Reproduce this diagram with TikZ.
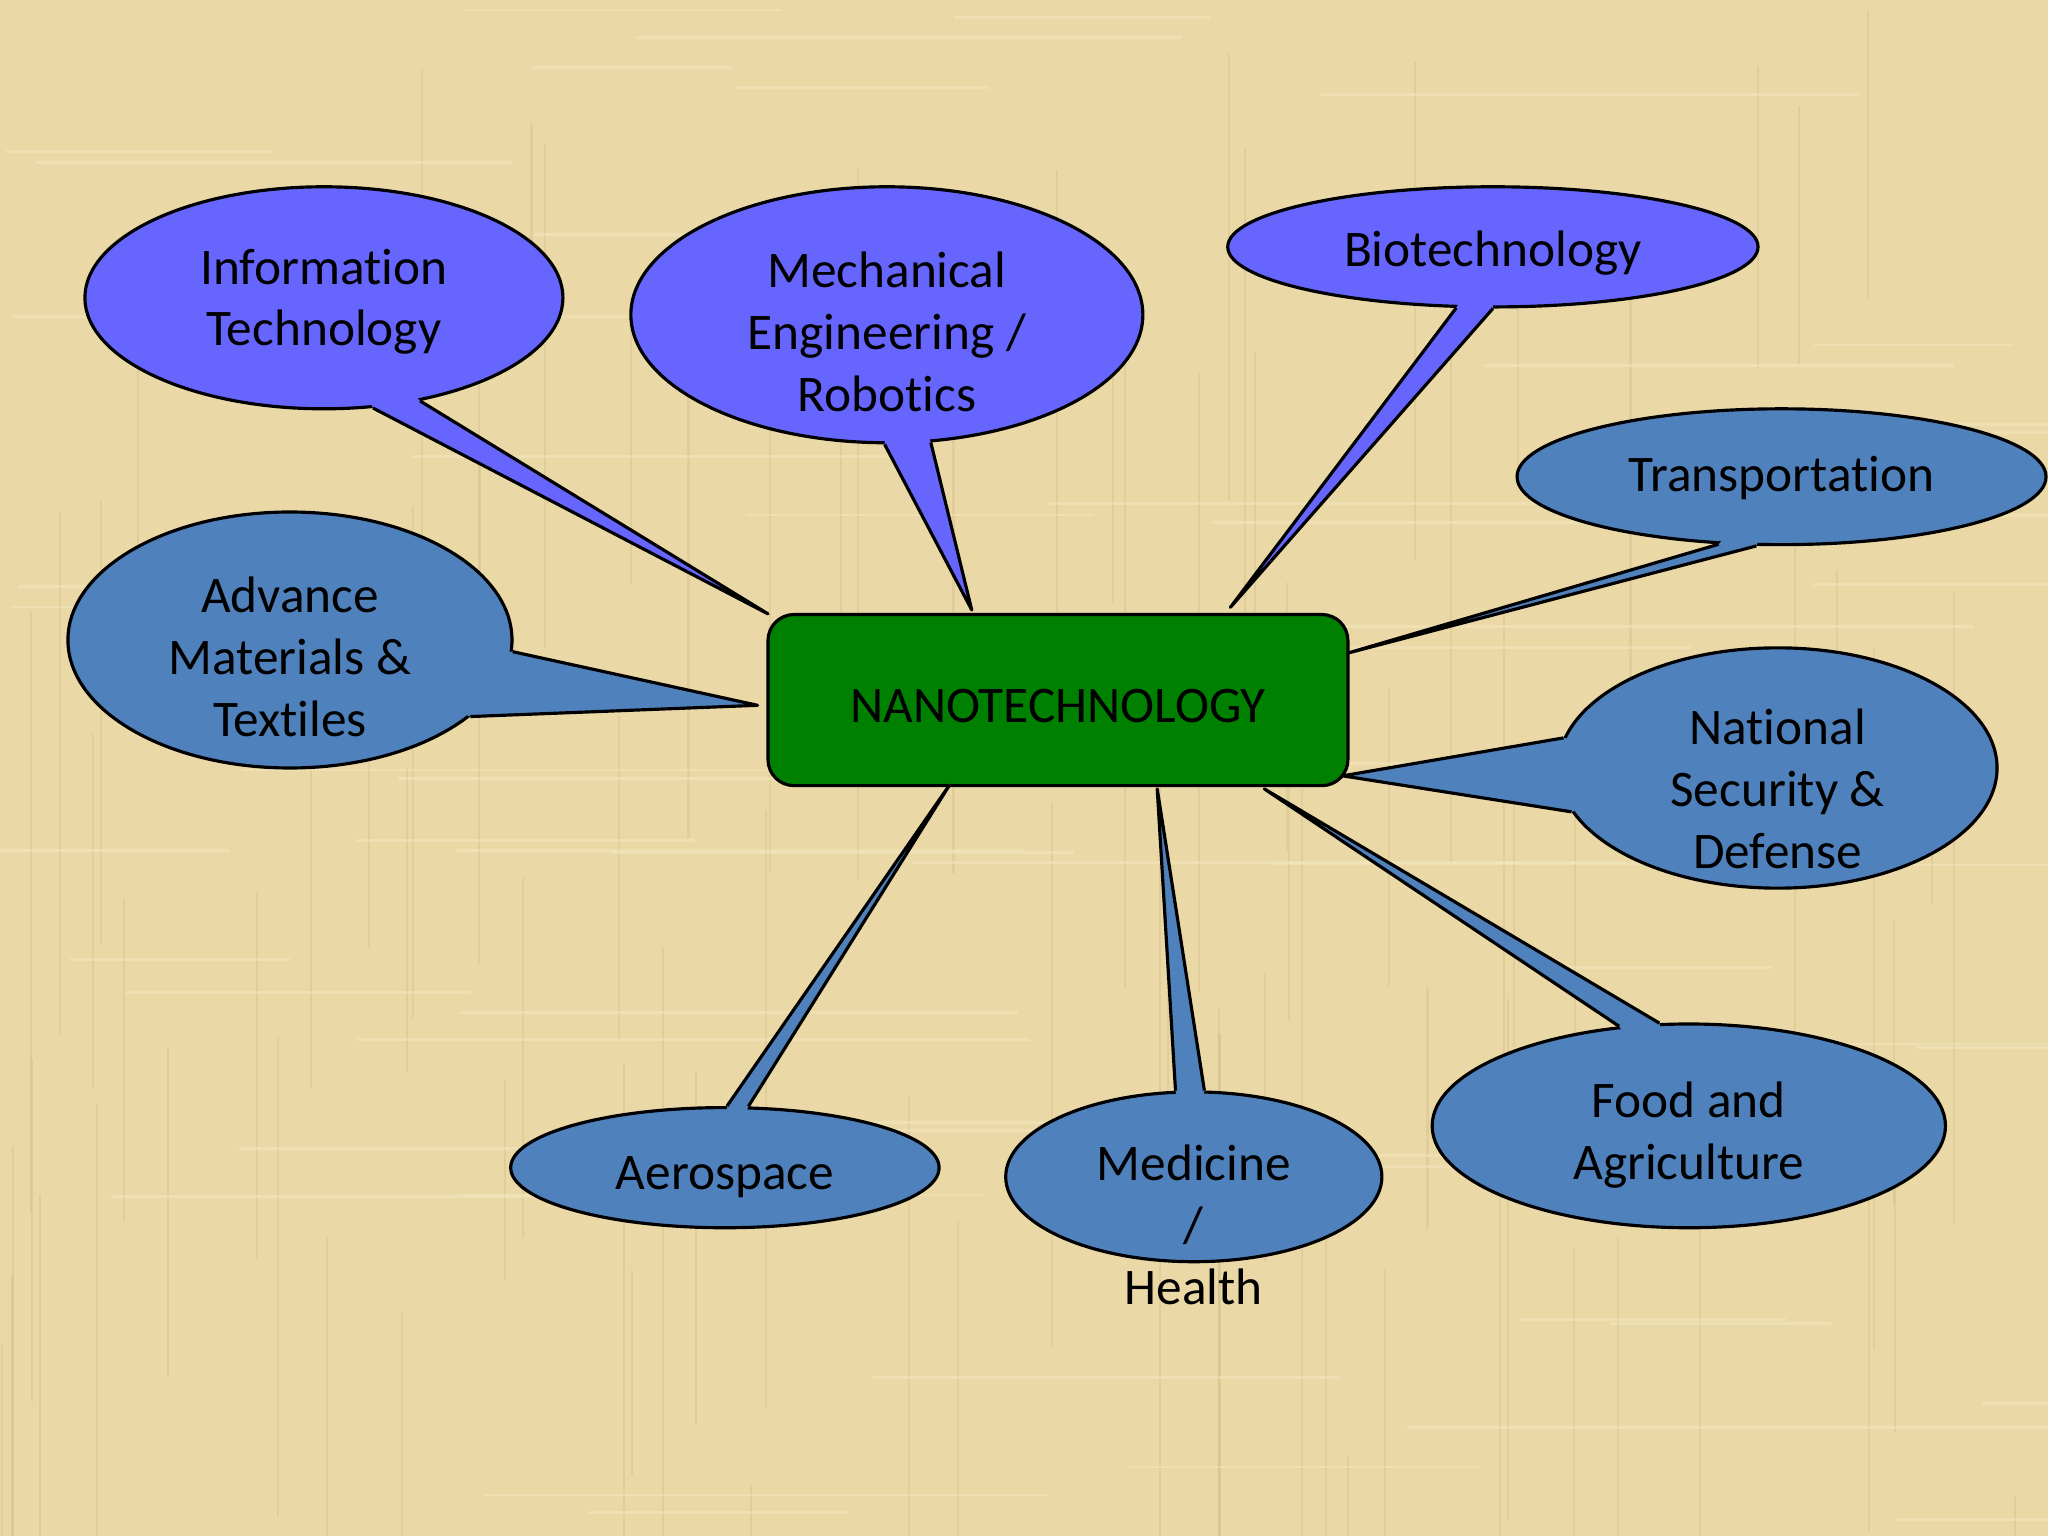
\documentclass[tikz,border=0pt]{standalone}
\usepackage{fontspec}
\setmainfont{Carlito}[Ligatures=CommonOff]
\usepackage{tikz}
\usetikzlibrary{shapes.geometric,calc}

\definecolor{papyrus}{HTML}{EAD8A6}
\definecolor{papyrusdark}{HTML}{C9B57E}
\definecolor{papyruslight}{HTML}{F5E8C0}
\definecolor{calloutpurple}{HTML}{6666FF}
\definecolor{calloutblue}{HTML}{4F81BD}
\definecolor{hubgreen}{HTML}{008000}

\def\px{0.013061cm}

\tikzset{
  txt/.style={font=\fontsize{14.6}{17.6}\selectfont, text=black, align=center},
  hub/.style={txt, draw=black, line width=0.9pt, fill=hubgreen, rounded corners=0.26cm,
    minimum width=444*\px, minimum height=131*\px, inner sep=0pt, text height=12.5pt, text depth=0pt},
  bubble/.style={ellipse, draw=black, line width=0.9pt, inner sep=0pt}
}

\begin{document}
\begin{tikzpicture}[x=\px,y=-\px]
\useasboundingbox (0,0) rectangle (1568,1176);
\fill[papyrus] (0,0) rectangle (1568,1176);
% faint papyrus fibres
\pgfmathsetseed{11}
\foreach \i in {1,...,90}{
  \pgfmathsetmacro\xx{rnd*1568}
  \pgfmathsetmacro\ya{rnd*1176}
  \pgfmathsetmacro\yb{\ya+150+rnd*400}
  \draw[papyrusdark, opacity=0.3, line width=0.6pt] (\xx,\ya) -- (\xx,\yb);
}
\foreach \i in {1,...,60}{
  \pgfmathsetmacro\yy{rnd*1176}
  \pgfmathsetmacro\xa{rnd*1568}
  \pgfmathsetmacro\xb{\xa+150+rnd*400}
  \draw[papyruslight, opacity=0.5, line width=0.8pt] (\xa,\yy) -- (\xb,\yy);
}

\node[hub] (nano) at (810,536) {NANOTECHNOLOGY};

% callouts: name / centre / size / colour / text / text shift / tail angles / tail tip
\foreach \n/\cx/\cy/\w/\h/\col/\txt/\dy/\aa/\ab/\tx/\ty in {
  info/248/228/366/170/calloutpurple/{Information\\Technology}/3/-66/-47/588/470,
  mech/679/241/392/196/calloutpurple/{Mechanical\\Engineering /\\Robotics}/13/-91/-71/744/467,
  bio/1143/189/406/92/calloutpurple/{Biotechnology}/5/-121/-90/942/465,
  trans/1364/365/405/104/calloutblue/{Transportation}/1/-133/-110/1032/500,
  nsd/1361/588/336/184/calloutblue/{National\\Security \&\\Defense}/16/172/192/1028/594,
  food/1293/862/393/156/calloutblue/{Food and\\Agriculture}/7/125.5/106.6/968/604,
  med/914/901/288/130/calloutblue/{Medicine\\/\\Health}/37/102.3/83/886/604,
  aero/555/894/328/92/calloutblue/{Aerospace}/7/88.7/69.3/727/601,
  adv/222/490/340/196/calloutblue/{Advance\\Materials \&\\Textiles}/13/-3.4/-23.1/580/540}{
  \coordinate (\n-tip) at (\tx,\ty);
  \node[bubble, fill=\col, minimum width=\w*\px, minimum height=\h*\px] (\n) at (\cx,\cy) {};
  \fill[\col] (\n.\aa) -- (\n-tip) -- (\n.\ab) -- ($(\n.\ab)!5pt!(\n.center)$) -- ($(\n.\aa)!5pt!(\n.center)$) -- cycle;
  \draw[line width=0.9pt, line join=round] (\n.\aa) -- (\n-tip) -- (\n.\ab);
  \node[txt] (\n-txt) at (\cx,\cy+\dy) {\txt};
}
\end{tikzpicture}
\end{document}
